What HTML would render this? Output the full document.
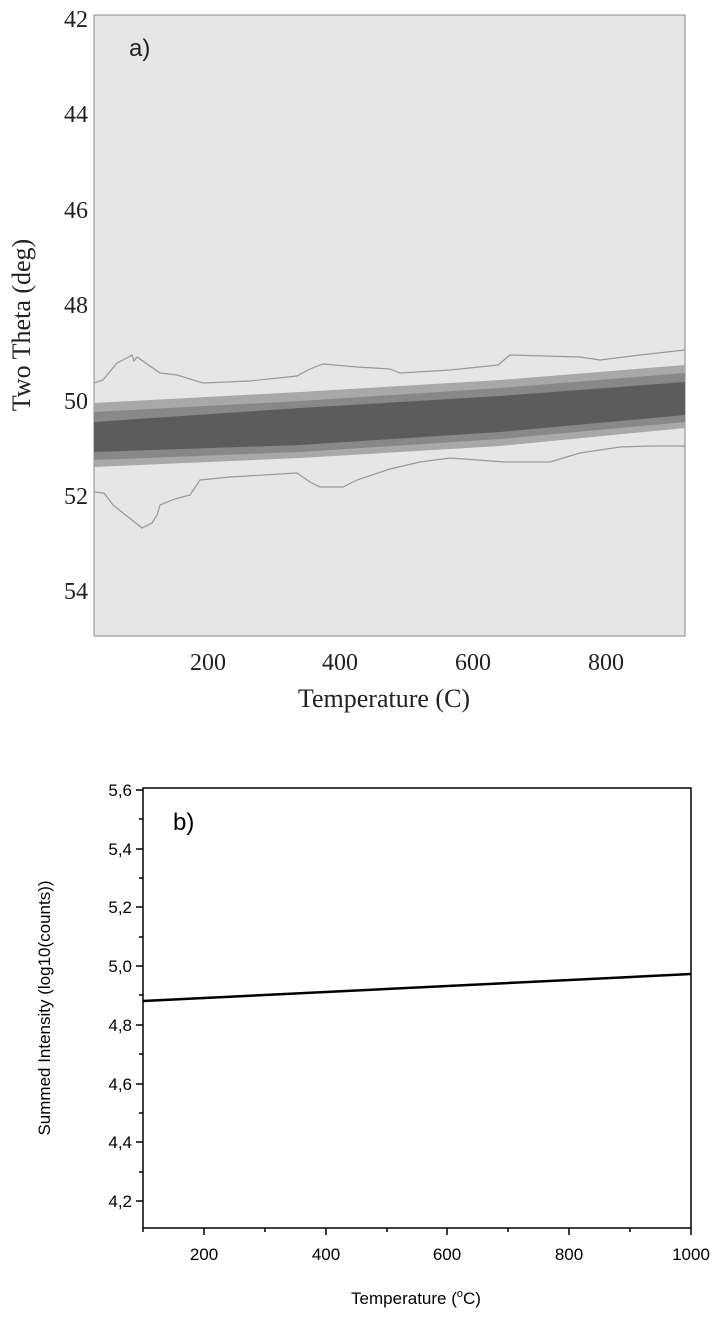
<!DOCTYPE html>
<html><head><meta charset="utf-8"><style>
html,body{margin:0;padding:0;background:#fff;width:717px;height:1323px;overflow:hidden}
</style></head><body>
<svg width="717" height="1323" viewBox="0 0 717 1323" xmlns="http://www.w3.org/2000/svg">
<!-- Top plot -->
<rect x="94" y="15" width="591" height="621" fill="#e6e6e6" stroke="#888" stroke-width="1"/>
<polygon points="94,403 300,392 500,380 685,365 685,428 500,446 300,458 94,467" fill="#a8a8a8"/>
<polygon points="94,412 300,401 500,388 685,373 685,422 500,439 300,452 94,460" fill="#888"/>
<polygon points="94,422 300,408 500,396 685,382 685,415 500,432 300,445 94,452" fill="#5c5c5c"/>
<polyline fill="none" stroke="#999" stroke-width="1.2" points="94,383 103,380 117,363 127,358 132,355 134,361 137,357 160,373 177,375 203,383 250,381 297,376 310,369 323,364 357,367 390,369 400,373 450,370 498,365 510,355 580,357 600,360 640,355 685,350"/>
<polyline fill="none" stroke="#999" stroke-width="1.2" points="94,492 104,493 113,505 123,513 132,520 142,528 152,523 157,515 160,505 175,499 190,495 200,480 230,477 297,473 310,482 320,487 343,487 357,480 390,469 420,462 450,458 505,462 550,462 580,453 620,447 650,446 685,446"/>
<g font-family="Liberation Serif, serif" font-size="24" fill="#222">
<text x="129" y="56" font-family="Liberation Sans, sans-serif" font-size="24">a)</text>
<g text-anchor="end">
<text x="88" y="27">42</text><text x="88" y="122">44</text><text x="88" y="218">46</text>
<text x="88" y="313">48</text><text x="88" y="409">50</text><text x="88" y="504">52</text><text x="88" y="599">54</text>
</g>
<g text-anchor="middle">
<text x="208" y="670">200</text><text x="340" y="670">400</text><text x="473" y="670">600</text><text x="606" y="670">800</text>
<text x="384" y="707" font-size="26">Temperature (C)</text>
<text transform="translate(30,325) rotate(-90)" font-size="26">Two Theta (deg)</text>
</g>
</g>
<!-- Bottom plot -->
<rect x="143" y="788" width="548" height="440" fill="none" stroke="#000" stroke-width="1.5"/>
<line x1="143" y1="1001" x2="691" y2="974" stroke="#000" stroke-width="2.5"/>
<g stroke="#000" stroke-width="1.5">
<line x1="136" y1="790" x2="143" y2="790"/><line x1="136" y1="849" x2="143" y2="849"/>
<line x1="136" y1="907" x2="143" y2="907"/><line x1="136" y1="966" x2="143" y2="966"/>
<line x1="136" y1="1025" x2="143" y2="1025"/><line x1="136" y1="1084" x2="143" y2="1084"/>
<line x1="136" y1="1142" x2="143" y2="1142"/><line x1="136" y1="1201" x2="143" y2="1201"/>
<line x1="139" y1="819" x2="143" y2="819"/><line x1="139" y1="878" x2="143" y2="878"/>
<line x1="139" y1="937" x2="143" y2="937"/><line x1="139" y1="995" x2="143" y2="995"/>
<line x1="139" y1="1054" x2="143" y2="1054"/><line x1="139" y1="1113" x2="143" y2="1113"/>
<line x1="139" y1="1172" x2="143" y2="1172"/>
<line x1="204" y1="1228" x2="204" y2="1235"/><line x1="326" y1="1228" x2="326" y2="1235"/>
<line x1="447" y1="1228" x2="447" y2="1235"/><line x1="569" y1="1228" x2="569" y2="1235"/>
<line x1="691" y1="1228" x2="691" y2="1235"/>
<line x1="143" y1="1228" x2="143" y2="1232"/><line x1="265" y1="1228" x2="265" y2="1232"/>
<line x1="387" y1="1228" x2="387" y2="1232"/><line x1="508" y1="1228" x2="508" y2="1232"/>
<line x1="630" y1="1228" x2="630" y2="1232"/>
</g>
<g font-family="Liberation Sans, sans-serif" font-size="17" fill="#000">
<text x="173" y="830" font-size="24">b)</text>
<g text-anchor="end">
<text x="132" y="796">5,6</text><text x="132" y="855">5,4</text><text x="132" y="913">5,2</text>
<text x="132" y="972">5,0</text><text x="132" y="1031">4,8</text><text x="132" y="1090">4,6</text>
<text x="132" y="1148">4,4</text><text x="132" y="1207">4,2</text>
</g>
<g text-anchor="middle">
<text x="204" y="1260">200</text><text x="326" y="1260">400</text><text x="447" y="1260">600</text>
<text x="569" y="1260">800</text><text x="691" y="1260">1000</text>
<text x="416" y="1304">Temperature (<tspan font-size="11" dy="-7">o</tspan><tspan dy="7">C)</tspan></text>
<text transform="translate(50,1008) rotate(-90)">Summed Intensity (log10(counts))</text>
</g>
</g>
</svg>
</body></html>
